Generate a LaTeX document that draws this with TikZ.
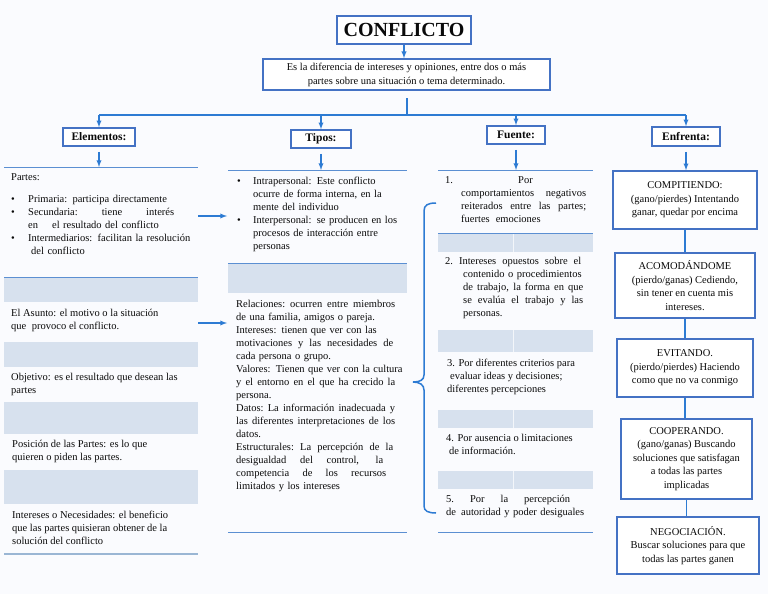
\documentclass[tikz,border=0pt]{standalone}
\usepackage{fontspec}
\setmainfont{Liberation Serif}
\usetikzlibrary{positioning}
\setlength{\parindent}{0pt}

\definecolor{paper}{HTML}{FAFBFE}
\definecolor{boxblue}{HTML}{4472C4}
\definecolor{linkblue}{HTML}{2D7BD3}
\definecolor{rowline}{HTML}{5B8FD2}
\definecolor{band}{HTML}{D7E1EE}
\definecolor{lowline}{HTML}{9AB6D4}
\definecolor{ink}{HTML}{0A0A0A}

\newcommand{\bodyfont}{\fontsize{10.5}{13}\selectfont}
% one justified line: spaces share the free room evenly
\newcommand{\jl}[2]{\leavevmode\hbox to #1{\spaceskip=0.25em plus 1fil\xspaceskip=\spaceskip #2}}

\tikzset{
  headbox/.style={draw=boxblue, line width=1.6pt, fill=white, inner sep=1pt,
    font=\bfseries\fontsize{11.5}{13}\selectfont},
  actbox/.style={draw=boxblue, line width=1.6pt, fill=white, inner sep=2pt,
    align=center, font=\fontsize{10.5}{13.5}\selectfont},
  txt/.style={anchor=north west, inner sep=0pt, font=\bodyfont, align=left},
  link/.style={draw=linkblue, line width=1.3pt},
  rule/.style={draw=rowline, line width=1pt}
}

\begin{document}
\begin{tikzpicture}[x=1pt, y=-1pt, >=latex, text=ink]
\fill[paper] (0,0) rectangle (768,594);
\useasboundingbox (0,0) rectangle (768,594);

% title and definition
\node[draw=boxblue, line width=1.6pt, fill=white, minimum width=134pt, minimum height=28pt,
  font=\bfseries\fontsize{20}{22}\selectfont] (title) at (404,30) {CONFLICTO};
\node[draw=boxblue, line width=1.6pt, fill=white, minimum width=287pt, minimum height=31pt,
  align=center, font=\fontsize{10.5}{14}\selectfont] (def) at (406.5,74.5)
  {Es la diferencia de intereses y opiniones, entre dos o más\\partes sobre una situación o tema determinado.};
\draw[link, ->] (title.south) -- (title.south |- def.north);

% headers
\node[headbox, minimum width=72pt, minimum height=18pt] (elem) at (99,137) {Elementos:};
\node[headbox, minimum width=60pt, minimum height=18pt] (tipos) at (321,139) {Tipos:};
\node[headbox, minimum width=58pt, minimum height=18pt] (fuente) at (516,135) {Fuente:};
\node[headbox, minimum width=68pt, minimum height=19pt] (enfr) at (686,136.5) {Enfrenta:};

\coordinate (hubtop) at (407,98);
\coordinate (hub) at (407,115);
\draw[link] (hubtop) -- (hub);
\draw[link] (elem.north |- hub) -- (enfr.north |- hub);
\foreach \h in {elem, tipos, fuente, enfr}
  \draw[link, ->] (\h.north |- hub) -- (\h.north);

% table columns
\coordinate (c1top) at (4,167);
\coordinate (c2top) at (228,170);
\coordinate (c3top) at (438,170);

\fill[band] (4,277) rectangle (198,302);
\fill[band] (4,342) rectangle (198,367);
\fill[band] (4,402) rectangle (198,434);
\fill[band] (4,470) rectangle (198,504);
\draw[rule] (c1top) -- (198,167);
\draw[rule] (4,277) -- (198,277);
\draw[draw=lowline, line width=1.2pt] (4,554) -- (198,554);

\fill[band] (228,263) rectangle (407,293);
\draw[rule] (c2top) -- (407,170);
\draw[rule] (228,263) -- (407,263);
\draw[rule] (228,532) -- (407,532);

\fill[band] (438,233) rectangle (593,252);
\fill[band] (438,330) rectangle (593,352);
\fill[band] (438,410) rectangle (593,428);
\fill[band] (438,471) rectangle (593,489);
\foreach \a/\b in {233/252, 330/352, 410/428, 471/489}
  \draw[white!70!band, line width=0.6pt] (513,\a) -- (513,\b);
\draw[rule] (c3top) -- (593,170);
\draw[rule] (438,233) -- (593,233);
\draw[rule] (438,532) -- (593,532);

\draw[link, ->] ([yshift=-5pt]elem.south) -- (elem.south |- c1top);
\draw[link, ->] ([yshift=-5pt]tipos.south) -- (tipos.south |- c2top);
\draw[link, ->] ([yshift=-5pt]fuente.south) -- (fuente.south |- c3top);

% Elementos
\node[txt] (partes) at (11,173) {Partes:};
\node[txt, text width=185pt] (partlist) at (11,195)
  {\makebox[17pt][l]{\textbullet}Primaria: participa directamente\\
   \makebox[17pt][l]{\textbullet}\jl{146pt}{Secundaria: tiene interés}\\
   \hspace*{17pt}en\hspace{14pt}el resultado del conflicto\\
   \makebox[17pt][l]{\textbullet}Intermediarios: facilitan la resolución\\
   \hspace*{20pt}del conflicto};
\node[txt] (asunto) at (11,309)
  {El Asunto: el motivo o la situación\\que\hspace{3pt} provoco el conflicto.};
\node[txt] (objetivo) at (11,373)
  {Objetivo: es el resultado que desean las\\partes};
\node[txt] (posicion) at (12,440)
  {Posición de las Partes: es lo que\\quieren o piden las partes.};
\node[txt] (necesid) at (12,511)
  {Intereses o Necesidades: el beneficio\\que las partes quisieran obtener de la\\solución del conflicto};

% Tipos
\node[txt, text width=168pt] (tiplist) at (237,177)
  {\makebox[16pt][l]{\textbullet}Intrapersonal: Este conflicto\\
   \hspace*{16pt}ocurre de forma interna, en la\\
   \hspace*{16pt}mente del individuo\\
   \makebox[16pt][l]{\textbullet}Interpersonal: se producen en los\\
   \hspace*{16pt}procesos de interacción entre\\
   \hspace*{16pt}personas};
\node[txt, text width=180pt] (clases) at (236,300)
  {\jl{159pt}{Relaciones: ocurren entre miembros}\\
   de una familia, amigos o pareja.\\
   Intereses: tienen que ver con las\\
   \jl{157pt}{motivaciones y las necesidades de}\\
   cada persona o grupo.\\
   Valores: Tienen que ver con la cultura\\
   \jl{159pt}{y el entorno en el que ha crecido la}\\
   persona.\\
   \jl{159pt}{Datos: La información inadecuada y}\\
   \jl{159pt}{las diferentes interpretaciones de los}\\
   datos.\\
   \jl{157pt}{Estructurales: La percepción de la}\\
   \jl{147pt}{desigualdad del control, la}\\
   \jl{150pt}{competencia de los recursos}\\
   limitados y los intereses};

\coordinate (s1) at (198,216);
\coordinate (e1) at (227,216);
\coordinate (s2) at (198,323);
\coordinate (e2) at (227,323);
\draw[link, ->] (s1) -- (e1);
\draw[link, ->] (s2) -- (e2);

% Fuente
\node[txt, text width=145pt] (f1) at (445,176)
  {\makebox[73pt][l]{1.}Por\\
   \hspace*{16pt}\jl{125pt}{comportamientos negativos}\\
   \hspace*{16pt}\jl{125pt}{reiterados entre las partes;}\\
   \hspace*{16pt}fuertes\hspace{6pt}emociones};
\node[txt, text width=145pt] (f2) at (445,257)
  {\jl{136pt}{2. Intereses opuestos sobre el}\\
   \hspace*{18pt}contenido o procedimientos\\
   \hspace*{18pt}\jl{120pt}{de trabajo, la forma en que}\\
   \hspace*{18pt}\jl{120pt}{se evalúa el trabajo y las}\\
   \hspace*{18pt}personas.};
\node[txt] (f3) at (447,359)
  {3. Por diferentes criterios para\\\hspace*{3pt}evaluar ideas y decisiones;\\diferentes percepciones};
\node[txt] (f4) at (446,434)
  {4. Por ausencia o limitaciones\\\hspace*{3pt}de información.};
\node[txt, text width=145pt] (f5) at (446,495)
  {\jl{124pt}{5. Por la percepción}\\
   de\hspace{5pt}autoridad y poder desiguales};

\draw[linkblue, line width=1.5pt]
  (436,203) .. controls (428,203) and (424,205) .. (424,211) -- (424,375)
  .. controls (424,380) and (420,382) .. (413,382)
  .. controls (420,382) and (424,385) .. (424,390) -- (424,506)
  .. controls (424,511) and (428,513) .. (436,513);

% Enfrenta
\node[actbox, minimum width=144pt, minimum height=58pt] (comp) at (685,200)
  {COMPITIENDO:\\(gano/pierdes) Intentando\\ganar, quedar por encima};
\node[actbox, minimum width=140pt, minimum height=65pt] (acom) at (685,285.5)
  {ACOMODÁNDOME\\(pierdo/ganas) Cediendo,\\sin tener en cuenta mis\\intereses.};
\node[actbox, minimum width=136pt, minimum height=58pt] (evit) at (685,368)
  {EVITANDO.\\(pierdo/pierdes) Haciendo\\como que no va conmigo};
\node[actbox, minimum width=131pt, minimum height=80pt] (coop) at (686.5,459)
  {COOPERANDO.\\(gano/ganas) Buscando\\soluciones que satisfagan\\a todas las partes\\implicadas};
\node[actbox, minimum width=142pt, minimum height=57pt] (nego) at (688,545.5)
  {NEGOCIACIÓN.\\Buscar soluciones para que\\todas las partes ganen};

\draw[link, ->] ([yshift=-5pt]enfr.south) -- (enfr.south |- comp.north);
\draw[link] (comp.south) -- (comp.south |- acom.north);
\draw[link] (acom.south) -- (acom.south |- evit.north);
\draw[link] (evit.south) -- (evit.south |- coop.north);
\draw[link] (coop.south) -- (coop.south |- nego.north);
\end{tikzpicture}
\end{document}
